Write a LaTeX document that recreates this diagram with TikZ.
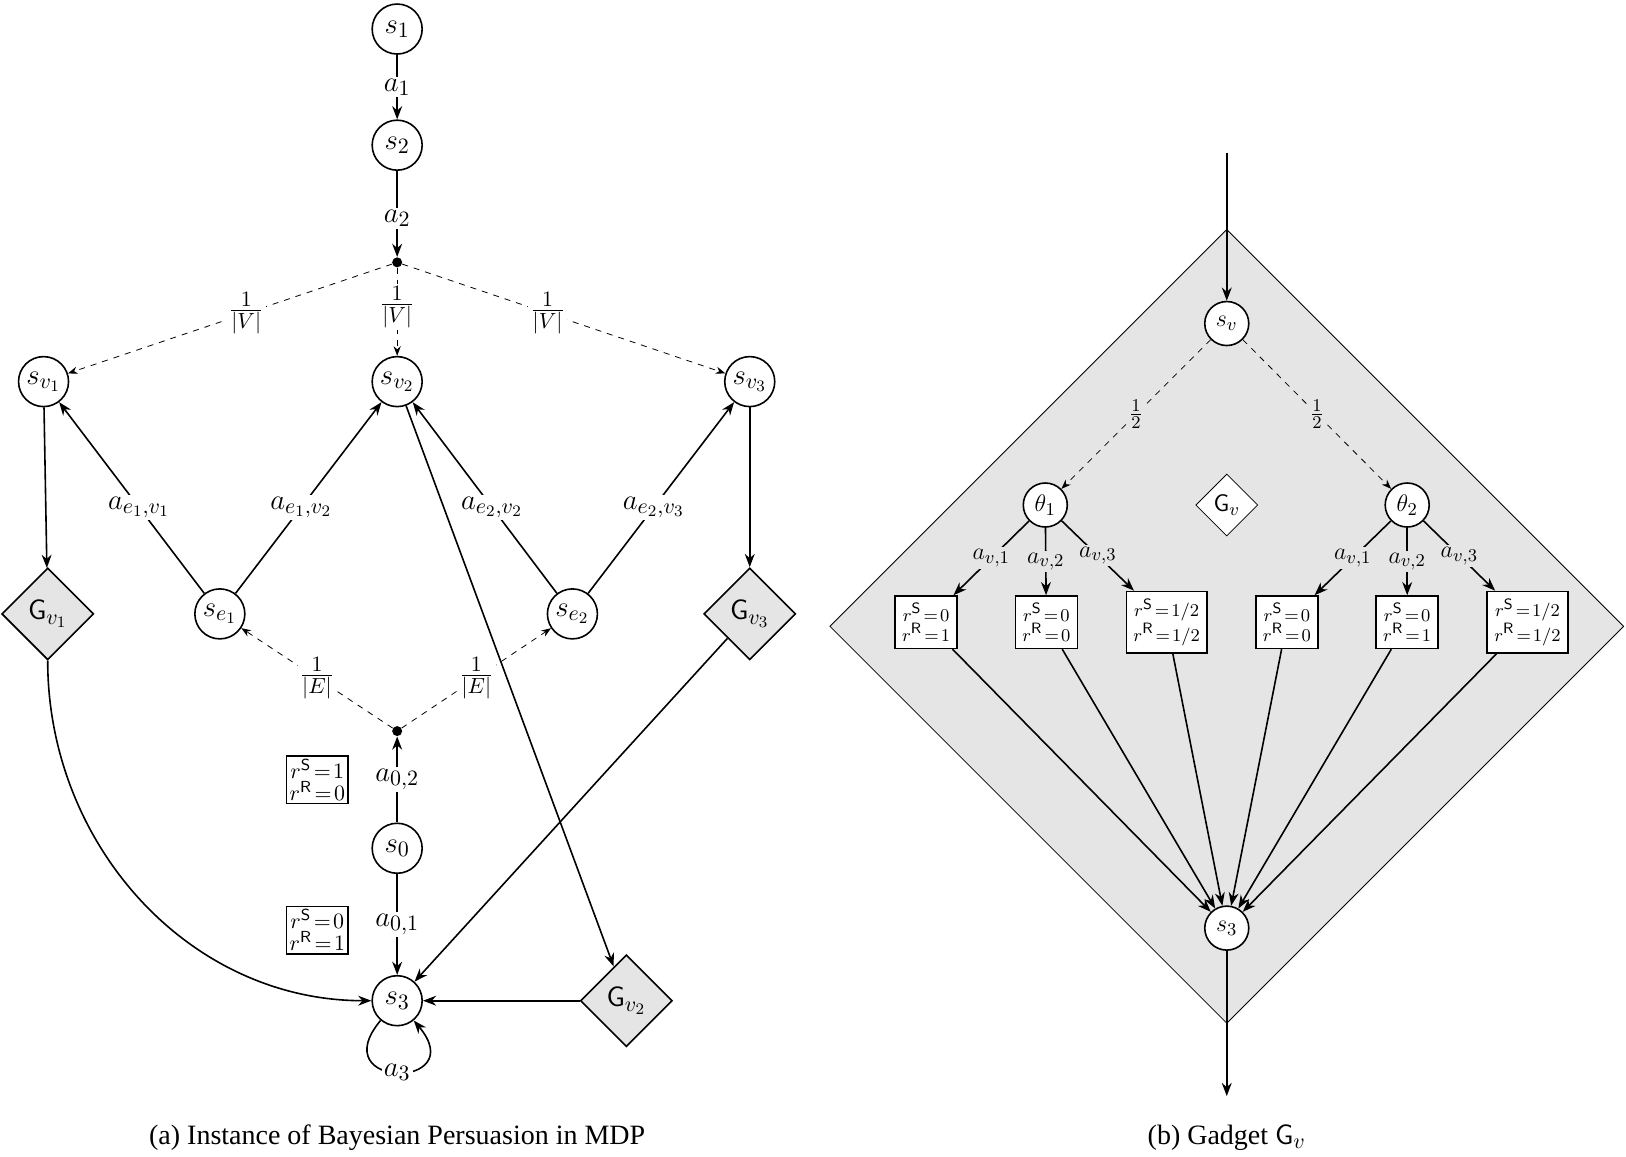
\documentclass[tikz,border=0pt]{standalone}
\usepackage{amsmath}
\usepackage{fontspec}
\newfontfamily\capfont{Liberation Serif}
\DeclareMathSizes{14}{14}{10.5}{8}
\DeclareMathSizes{12}{12}{9}{7}
\DeclareMathSizes{11}{11}{8}{6}
\DeclareMathSizes{9.5}{9.5}{7.5}{6}
\usetikzlibrary{arrows.meta,shapes.geometric}
\begin{document}
\begin{tikzpicture}[x=0.5185pt,y=-0.5185pt,>=Stealth,
  st/.style={circle,draw,thick,minimum size=25pt,inner sep=0pt,font=\fontsize{14}{16}\selectfont},
  stb/.style={circle,draw,thick,minimum size=22pt,inner sep=0pt,fill=white,font=\fontsize{12}{14}\selectfont},
  gd/.style={diamond,draw,thick,fill=gray!20,minimum size=46pt,inner sep=0pt,font=\fontsize{14}{16}\selectfont},
  dot/.style={circle,fill,inner sep=0pt,minimum size=5pt},
  lab/.style={fill=white,inner sep=1pt,font=\fontsize{14}{16}\selectfont},
  labr/.style={fill=gray!20,inner sep=1pt,font=\fontsize{12}{14}\selectfont},
  rb/.style={draw,thick,fill=white,align=center,inner sep=3.5pt,font=\fontsize{9.5}{10}\selectfont},
  rbl/.style={draw,thick,align=center,inner sep=1.5pt,font=\fontsize{11}{11}\selectfont},
  e/.style={->,thick},
  de/.style={->,dashed}]
\useasboundingbox (0,0) rectangle (1568,1115);
% ---- panel (a)
\node[st] (s1) at (383,28) {$s_1$};
\node[st] (s2) at (383,140) {$s_2$};
\node[dot] (d1) at (383,253) {};
\node[st] (sv1) at (42,368) {$s_{v_1}$};
\node[st] (sv2) at (383,368) {$s_{v_2}$};
\node[st] (sv3) at (723,368) {$s_{v_3}$};
\node[gd] (g1) at (46,592) {$\mathsf{G}_{v_1}$};
\node[st] (se1) at (212,592) {$s_{e_1}$};
\node[st] (se2) at (552,592) {$s_{e_2}$};
\node[gd] (g3) at (723,592) {$\mathsf{G}_{v_3}$};
\node[dot] (d2) at (383,705) {};
\node[st] (s0) at (383,818) {$s_0$};
\node[st] (s3) at (383,965) {$s_3$};
\node[gd] (g2) at (604,965) {$\mathsf{G}_{v_2}$};
\node[rbl] (b1) at (306,752) {$r^{\mathsf{S}}\!=\!1$\\$r^{\mathsf{R}}\!=\!0$};
\node[rbl] (b2) at (306,897) {$r^{\mathsf{S}}\!=\!0$\\$r^{\mathsf{R}}\!=\!1$};
\draw[e] (s1) -- node[lab]{$a_1$} (s2);
\draw[e] (s2) -- node[lab,pos=0.55]{$a_2$} (d1);
\draw[de] (d1) -- node[lab,pos=0.45]{$\frac{1}{|V|}$} (sv1);
\draw[de] (d1) -- node[lab,pos=0.45]{$\frac{1}{|V|}$} (sv2);
\draw[de] (d1) -- node[lab,pos=0.45]{$\frac{1}{|V|}$} (sv3);
\draw[e] (sv1) -- (g1);
\draw[e] (sv3) -- (g3);
\draw[e] (se1) -- node[lab,pos=0.45]{$a_{e_1,v_1}$} (sv1);
\draw[e] (se1) -- node[lab,pos=0.45]{$a_{e_1,v_2}$} (sv2);
\draw[e] (se2) -- node[lab,pos=0.45]{$a_{e_2,v_2}$} (sv2);
\draw[e] (se2) -- node[lab,pos=0.45]{$a_{e_2,v_3}$} (sv3);
\draw[e] (sv2) -- (g2);
\draw[de] (d2) -- node[lab]{$\frac{1}{|E|}$} (se1);
\draw[de] (d2) -- node[lab]{$\frac{1}{|E|}$} (se2);
\draw[e] (s0) -- node[lab]{$a_{0,2}$} (d2);
\draw[e] (s0) -- node[lab]{$a_{0,1}$} (s3);
\draw[e] (g3) -- (s3);
\draw[e] (g2) -- (s3);
\draw[e] (g1) to[out=-90,in=180] (s3);
\draw[e] (s3) to[out=-130,in=-50,looseness=7] node[lab,pos=0.5]{$a_3$} (s3);
\node[font=\capfont\fontsize{14}{16}\selectfont] (ca) at (383,1097) {(a) Instance of Bayesian Persuasion in MDP};
% ---- panel (b)
\node[diamond,draw,fill=gray!20,inner sep=0pt,minimum size=397pt] (D) at (1183,604) {};
\coordinate (top) at (1183,148);
\coordinate (bot) at (1183,1057);
\node[stb] (sv) at (1183,312) {$s_v$};
\node[stb] (t1) at (1008,487) {$\theta_1$};
\node[stb] (t2) at (1357,487) {$\theta_2$};
\node[diamond,draw,fill=white,inner sep=1pt,minimum size=31pt,font=\fontsize{12}{14}\selectfont] (G) at (1183,487) {$\mathsf{G}_v$};
\node[rb] (c1) at (893,600) {$r^{\mathsf{S}}\!=\!0$\\$r^{\mathsf{R}}\!=\!1$};
\node[rb] (c2) at (1009,600) {$r^{\mathsf{S}}\!=\!0$\\$r^{\mathsf{R}}\!=\!0$};
\node[rb] (c3) at (1125,600) {$r^{\mathsf{S}}\!=\!1/2$\\$r^{\mathsf{R}}\!=\!1/2$};
\node[rb] (c4) at (1241,600) {$r^{\mathsf{S}}\!=\!0$\\$r^{\mathsf{R}}\!=\!0$};
\node[rb] (c5) at (1357,600) {$r^{\mathsf{S}}\!=\!0$\\$r^{\mathsf{R}}\!=\!1$};
\node[rb] (c6) at (1473,600) {$r^{\mathsf{S}}\!=\!1/2$\\$r^{\mathsf{R}}\!=\!1/2$};
\node[stb] (s3b) at (1183,895) {$s_3$};
\draw[e] (top) -- (sv);
\draw[e] (s3b) -- (bot);
\draw[de] (sv) -- node[labr]{$\frac12$} (t1);
\draw[de] (sv) -- node[labr]{$\frac12$} (t2);
\foreach \t/\a/\b/\c in {t1/c1/c2/c3, t2/c4/c5/c6}{
  \draw[e] (\t) -- node[labr]{$a_{v,1}$} (\a);
  \draw[e] (\t) -- node[labr]{$a_{v,2}$} (\b);
  \draw[e] (\t) -- node[labr]{$a_{v,3}$} (\c);}
\foreach \c in {c1,c2,c3,c4,c5,c6}{\draw[e] (\c) -- (s3b);}
\node[font=\capfont\fontsize{14}{16}\selectfont] (cb) at (1183,1097) {(b) Gadget $\mathsf{G}_v$};
\end{tikzpicture}
\end{document}
